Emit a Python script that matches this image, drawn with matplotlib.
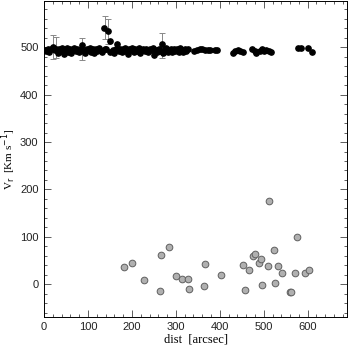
import numpy as np
import matplotlib.pyplot as plt
from matplotlib.ticker import MultipleLocator

# black series (main velocity curve)
dist_a = [3, 5, 9, 12, 16, 20, 24, 27, 31, 34, 38, 41, 45, 48, 52, 55, 58, 62, 65, 69,
          72, 76, 79, 83, 86, 90, 93, 97, 100, 104, 107, 111, 114, 118, 121, 125, 128,
          132, 137, 139, 142, 146, 149, 151, 156, 159, 163, 166, 170, 173, 177, 180,
          184, 187, 191, 194, 198, 201, 205, 208, 212, 215, 219, 222, 226, 229, 233,
          236, 240, 243, 247, 250, 254, 257, 261, 264, 268, 271, 275, 278, 282, 285,
          289, 292, 296, 299, 303, 306, 310, 313, 317, 320, 324, 327,
          342, 348, 354, 360, 366, 372, 378, 388, 394,
          430, 435, 441, 447, 453, 473, 479, 483, 491, 495, 501, 506, 511, 517,
          577, 585, 601, 609]
vel_a = [494, 492, 497, 489, 495, 501, 493, 497, 488, 495, 491, 498, 486, 494, 499, 490,
         496, 487, 493, 498, 491, 495, 489, 496, 504, 492, 487, 497, 493, 499, 490, 495,
         488, 496, 492, 498, 493, 489, 541, 495, 497, 533, 490, 513, 494, 488, 496, 506,
         492, 497, 489, 495, 499, 491, 486, 496, 493, 498, 490, 495, 492, 499, 488, 494,
         497, 491, 496, 489, 495, 493, 498, 483, 494, 490, 497, 492, 506, 487, 495, 498,
         490, 494, 496, 489, 497, 492, 495, 490, 498, 493, 489, 496, 492, 495,
         491, 494, 497, 496, 493, 494, 494, 494, 494,
         487, 491, 494, 492, 489, 496, 492, 487, 492, 496, 491, 494, 491, 489,
         498, 498, 498, 490]

# points of the black series with visible error bars
err_x = [20, 27, 86, 139, 146, 268]
err_y = [501, 497, 504, 541, 533, 506]
err_lo = [26, 20, 31, 24, 27, 28]
err_hi = [24, 25, 16, 25, 26, 23]

# grey series
dist_b = [181, 201, 227, 264, 267, 284, 301, 313, 328, 330, 363, 366, 403, 452, 457,
          467, 475, 479, 489, 494, 497, 509, 511, 523, 525, 532, 542, 560, 562, 572,
          576, 594, 602]
vel_b = [37, 46, 10, -14, 63, 78, 17, 11, 11, -10, -4, 42, 19, 41, -11, 31, 60, 65,
         46, 53, -2, 39, 176, 72, 3, 38, 25, -17, -15, 23, 100, 24, 31]

plt.rcParams['font.family'] = 'Liberation Sans'
fig = plt.figure(figsize=(3.5, 3.48), dpi=100)
ax = fig.add_axes([0.126, 0.09, 0.866, 0.907])

ax.errorbar(err_x, err_y, yerr=[err_lo, err_hi], fmt='none', ecolor='#888888',
            elinewidth=0.7, capsize=2.5, capthick=0.7, zorder=1)
ax.plot(dist_a, vel_a, 'o', color='black', markersize=3.8, zorder=2)
ax.plot(dist_b, vel_b, 'o', markerfacecolor='#b0b0b0', markeredgecolor='#606060',
        markeredgewidth=0.7, markersize=4.8, zorder=2)

ax.set_xlim(0, 690)
ax.set_ylim(-68, 597)
ax.xaxis.set_major_locator(MultipleLocator(100))
ax.xaxis.set_minor_locator(MultipleLocator(20))
ax.yaxis.set_major_locator(MultipleLocator(100))
ax.yaxis.set_minor_locator(MultipleLocator(20))
ax.tick_params(which='both', direction='in', top=True, right=True, labelsize=8,
               color='#444444', labelcolor='#222222')
ax.tick_params(which='major', length=5, width=0.6, pad=4)
ax.tick_params(which='minor', length=2.5, width=0.6)
for s in ax.spines.values():
    s.set_linewidth(0.7)

ax.set_xlabel('dist  [arcsec]', family='Liberation Serif', fontsize=9, labelpad=1)
ax.set_ylabel(r'V$_{\rm r}$  [Km s$^{-1}$]', family='Liberation Serif', fontsize=8)
ax.yaxis.set_label_coords(-0.085, 0.5)

fig.savefig('out.png', dpi=100)
